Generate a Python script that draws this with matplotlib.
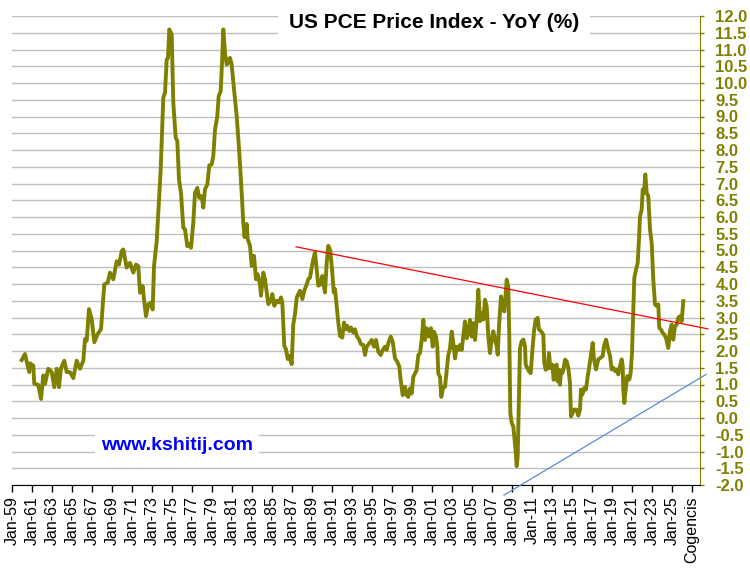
import numpy as np
import matplotlib
matplotlib.use('Agg')
import matplotlib.pyplot as plt

plt.rcParams['font.family'] = ['Liberation Sans', 'DejaVu Sans']

# US PCE price index, YoY % (decimal year, value)
pce_1960s = [(1959.97, 1.73), (1960.3, 1.91), (1960.47, 1.68), (1960.73, 1.37), (1960.8, 1.63),
             (1961.13, 1.56), (1961.23, 1.02), (1961.63, 0.99), (1961.9, 0.57), (1962.13, 1.27),
             (1962.3, 1.02), (1962.63, 1.47), (1962.97, 1.37), (1963.23, 0.92), (1963.47, 1.47),
             (1963.7, 0.92), (1963.9, 1.49), (1964.23, 1.71), (1964.47, 1.37), (1964.8, 1.37),
             (1965.13, 1.19), (1965.47, 1.71), (1965.8, 1.47), (1966.13, 1.71), (1966.3, 2.36),
             (1966.47, 2.31), (1966.7, 3.25), (1966.97, 2.95), (1967.23, 2.26), (1967.57, 2.51),
             (1967.9, 2.65), (1968.23, 3.99), (1968.57, 4.04), (1968.8, 4.34), (1969.13, 4.14),
             (1969.47, 4.68), (1969.7, 4.58), (1969.97, 4.98)]
pce_1970s = [(1970.13, 5.03), (1970.47, 4.49), (1970.8, 4.63), (1971.13, 4.34), (1971.4, 4.58),
             (1971.63, 4.53), (1971.8, 3.74), (1972.07, 3.94), (1972.2, 3.54), (1972.4, 3.04),
             (1972.63, 3.39), (1972.87, 3.44), (1973.07, 3.24), (1973.2, 4.53), (1973.47, 5.28),
             (1973.63, 6.13), (1973.87, 7.42), (1974.13, 9.56), (1974.3, 9.71), (1974.47, 10.7),
             (1974.6, 10.75), (1974.73, 11.6), (1974.97, 11.45), (1975.13, 9.41), (1975.37, 8.37),
             (1975.53, 8.27), (1975.7, 7.12), (1975.9, 6.72), (1976.13, 5.68), (1976.3, 5.63),
             (1976.53, 5.13), (1976.73, 5.18), (1976.9, 5.08), (1977.13, 5.83), (1977.3, 6.72),
             (1977.53, 6.87), (1977.73, 6.57), (1977.97, 6.62), (1978.13, 6.28), (1978.3, 6.83),
             (1978.53, 6.97), (1978.73, 7.54), (1978.97, 7.57), (1979.13, 7.82), (1979.3, 8.61),
             (1979.53, 9.01), (1979.67, 9.61), (1979.87, 9.76)]
pce_1980s = [(1980.0, 10.6), (1980.13, 11.6), (1980.3, 10.9), (1980.47, 10.55), (1980.63, 10.6),
             (1980.8, 10.75), (1980.97, 10.55), (1981.2, 9.81), (1981.47, 9.01), (1981.73, 7.92),
             (1981.97, 6.72), (1982.13, 5.83), (1982.25, 5.4), (1982.47, 5.79), (1982.57, 5.34),
             (1982.8, 5.14), (1982.97, 4.54), (1983.2, 4.84), (1983.4, 4.14), (1983.57, 4.29),
             (1983.8, 3.99), (1983.9, 3.65), (1984.13, 4.34), (1984.3, 4.14), (1984.47, 3.75),
             (1984.63, 3.40), (1984.9, 3.50), (1985.03, 3.70), (1985.23, 3.35), (1985.47, 3.50),
             (1985.7, 3.45), (1985.9, 3.60), (1986.03, 3.45), (1986.23, 2.15), (1986.4, 2.05),
             (1986.57, 1.76), (1986.73, 1.86), (1986.97, 1.61), (1987.13, 2.80), (1987.3, 3.10),
             (1987.47, 3.60), (1987.63, 3.70), (1987.8, 3.80), (1988.03, 3.55), (1988.23, 3.80),
             (1988.47, 3.99), (1988.63, 4.14), (1988.8, 4.19), (1988.97, 4.49), (1989.13, 4.74),
             (1989.3, 4.94), (1989.47, 4.44), (1989.63, 3.95), (1989.87, 3.99)]
pce_1990s = [(1990.03, 4.24), (1990.17, 3.95), (1990.3, 3.75), (1990.47, 4.64), (1990.63, 5.14),
             (1990.83, 4.99), (1991.03, 4.34), (1991.17, 3.75), (1991.3, 3.85), (1991.47, 3.35),
             (1991.63, 2.85), (1991.8, 2.45), (1992.03, 2.40), (1992.2, 2.85), (1992.37, 2.65),
             (1992.53, 2.75), (1992.73, 2.60), (1992.9, 2.70), (1993.13, 2.55), (1993.3, 2.65),
             (1993.47, 2.45), (1993.7, 2.35), (1993.9, 2.20), (1994.13, 2.18), (1994.3, 1.88),
             (1994.47, 2.13), (1994.73, 2.23), (1994.97, 2.33), (1995.2, 2.13), (1995.4, 2.33),
             (1995.63, 1.98), (1995.87, 1.88), (1996.07, 2.03), (1996.3, 2.13), (1996.47, 2.03),
             (1996.63, 2.23), (1996.87, 2.43), (1997.07, 2.28), (1997.3, 1.78), (1997.53, 1.68),
             (1997.73, 1.53), (1997.87, 1.13), (1998.07, 0.68), (1998.3, 0.93), (1998.47, 0.68),
             (1998.63, 0.63), (1998.8, 0.88), (1998.97, 0.73), (1999.13, 1.23), (1999.3, 1.33),
             (1999.47, 1.43), (1999.63, 1.88), (1999.8, 1.93), (1999.97, 2.33)]
pce_2000s = [(2000.13, 2.93), (2000.3, 2.33), (2000.47, 2.68), (2000.7, 2.43), (2000.9, 2.68),
             (2001.07, 2.13), (2001.2, 2.58), (2001.4, 2.43), (2001.53, 2.13), (2001.63, 1.33),
             (2001.8, 1.23), (2001.93, 0.63), (2002.13, 0.93), (2002.3, 0.93), (2002.47, 1.43),
             (2002.63, 1.88), (2002.8, 2.08), (2002.97, 2.58), (2003.13, 2.23), (2003.3, 1.78),
             (2003.47, 2.13), (2003.63, 2.03), (2003.8, 2.18), (2003.97, 2.03), (2004.13, 2.43),
             (2004.3, 2.88), (2004.47, 2.38), (2004.63, 2.53), (2004.8, 2.93), (2004.97, 2.43),
             (2005.13, 2.83), (2005.3, 2.33), (2005.47, 2.94), (2005.63, 3.83), (2005.8, 2.89),
             (2005.97, 3.13), (2006.13, 2.94), (2006.3, 3.53), (2006.47, 3.33), (2006.63, 2.44),
             (2006.8, 1.94), (2006.97, 2.34), (2007.13, 2.59), (2007.3, 2.34), (2007.47, 2.14),
             (2007.57, 1.89), (2007.7, 2.74), (2007.9, 3.63), (2008.03, 3.33), (2008.23, 3.18),
             (2008.47, 4.13), (2008.63, 3.93), (2008.73, 2.44), (2008.83, 0.15), (2008.97, -0.15),
             (2009.13, -0.25), (2009.23, -0.55), (2009.37, -1.00), (2009.47, -1.44), (2009.57, -1.14),
             (2009.7, 0.65), (2009.8, 2.09), (2009.97, 2.29)]
pce_2010s = [(2010.13, 2.34), (2010.3, 2.14), (2010.37, 1.59), (2010.53, 1.49), (2010.7, 1.39),
             (2010.87, 1.34), (2011.03, 1.99), (2011.2, 2.59), (2011.37, 2.94), (2011.57, 2.99),
             (2011.7, 2.64), (2011.9, 2.59), (2012.13, 2.49), (2012.23, 1.64), (2012.37, 1.44),
             (2012.57, 1.49), (2012.7, 1.94), (2012.83, 1.49), (2013.03, 1.59), (2013.17, 1.14),
             (2013.3, 1.54), (2013.47, 1.59), (2013.57, 1.09), (2013.7, 1.44), (2013.8, 0.99),
             (2013.9, 1.39), (2014.03, 1.34), (2014.17, 1.49), (2014.3, 1.74), (2014.47, 1.69),
             (2014.63, 1.49), (2014.8, 1.04), (2014.9, 0.05), (2015.07, 0.15), (2015.23, 0.25),
             (2015.47, 0.25), (2015.63, 0.07), (2015.8, 0.25), (2015.9, 0.85), (2016.03, 0.70),
             (2016.23, 0.90), (2016.4, 0.85), (2016.57, 1.24), (2016.73, 1.54), (2017.07, 2.24),
             (2017.2, 1.75), (2017.4, 1.45), (2017.63, 1.75), (2017.87, 1.80), (2018.07, 1.85),
             (2018.2, 2.14), (2018.4, 2.34), (2018.63, 2.04), (2018.8, 1.85), (2018.97, 1.45),
             (2019.13, 1.50), (2019.3, 1.40), (2019.47, 1.45), (2019.63, 1.30), (2019.8, 1.55),
             (2019.97, 1.75)]
pce_2020s = [(2020.07, 1.55), (2020.13, 0.85), (2020.23, 0.45), (2020.4, 0.95), (2020.53, 1.25),
             (2020.73, 1.15), (2020.87, 1.35), (2021.0, 1.95), (2021.13, 3.24), (2021.23, 4.18),
             (2021.4, 4.43), (2021.57, 4.63), (2021.7, 5.33), (2021.8, 6.02), (2021.97, 6.22),
             (2022.07, 6.82), (2022.2, 6.72), (2022.33, 7.27), (2022.47, 6.72), (2022.63, 6.62),
             (2022.8, 5.63), (2022.97, 5.23), (2023.13, 4.13), (2023.3, 3.39), (2023.47, 3.34),
             (2023.63, 3.39), (2023.73, 2.69), (2023.9, 2.64), (2024.07, 2.54), (2024.23, 2.49),
             (2024.4, 2.39), (2024.63, 2.09), (2024.8, 2.59), (2024.97, 2.79), (2025.13, 2.34),
             (2025.3, 2.74), (2025.47, 2.79), (2025.63, 2.99), (2025.8, 3.04), (2025.97, 2.89),
             (2026.13, 3.49)]

# hand-drawn trend lines (start / end)
red_trend_x = [1987.4, 2028.6]
red_trend_y = [5.11, 2.66]
blue_trend_x = [2008.2, 2028.4]
blue_trend_y = [-2.3, 1.30]

tick_years = list(range(1959, 2026, 2)) + [2027]
tick_labels = ['Jan-{:02d}'.format(y % 100) for y in range(1959, 2026, 2)] + ['Cogencis']
y_ticks = np.arange(-2.0, 12.01, 0.5)

olive = '#808000'

pce = np.array(pce_1960s + pce_1970s + pce_1980s + pce_1990s + pce_2000s + pce_2010s + pce_2020s)

fig = plt.figure(figsize=(7.5, 5.7), dpi=100)
ax = fig.add_axes([12 / 750, 85 / 570, 688 / 750, 469 / 570])

ax.plot(pce[:, 0], pce[:, 1], color=olive, lw=2.8, zorder=3, solid_joinstyle='round')
ax.plot(red_trend_x, red_trend_y, color='red', lw=0.9, zorder=4, clip_on=False)
ax.plot(blue_trend_x, blue_trend_y, color='#5a8ad6', lw=0.9, zorder=4, clip_on=False)

ax.set_xlim(1959, 2027.8)
ax.set_ylim(-2, 12)

# right hand y axis
ax.yaxis.tick_right()
ax.set_yticks(y_ticks)
ax.set_yticklabels(['{:.1f}'.format(v) for v in y_ticks], fontsize=12, fontweight='bold', color=olive)
ax.tick_params(axis='y', direction='out', length=3, width=1, color=olive, pad=8)
ax.yaxis.grid(True, color='#bfbfbf', lw=1)
ax.set_axisbelow(True)

ax.set_xticks(tick_years)
ax.set_xticklabels(tick_labels, rotation=90, fontsize=11.5)
ax.tick_params(axis='x', direction='out', length=5, width=1, color='black', pad=3)

ax.spines['left'].set_visible(False)
ax.spines['top'].set_visible(False)
ax.spines['right'].set_color(olive)
ax.spines['bottom'].set_color('black')

ax.text(0.613, 0.986, 'US PCE Price Index - YoY (%)', transform=ax.transAxes,
        ha='center', va='center', fontsize=15, fontweight='bold', zorder=5,
        bbox=dict(facecolor='white', edgecolor='none', pad=8))
ax.text(0.240, 0.084, 'www.kshitij.com', transform=ax.transAxes,
        ha='center', va='center', fontsize=14, fontweight='bold', color='#0000ff', zorder=5,
        bbox=dict(facecolor='white', edgecolor='none', pad=4))

fig.savefig('out.png', dpi=100)
